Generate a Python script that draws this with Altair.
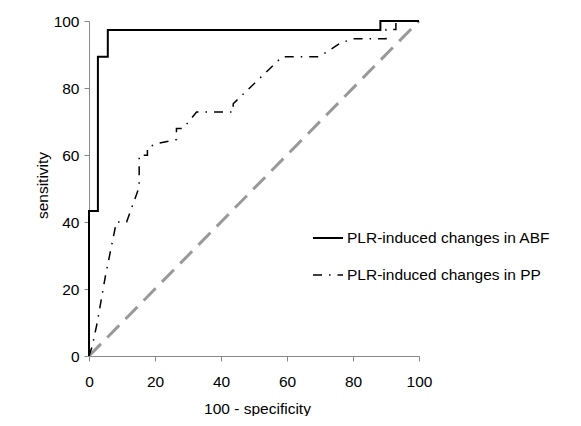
import pandas as pd
import altair as alt

# series names (legend text)
names = ["PLR-induced changes in ABF", "PLR-induced changes in PP"]

# ROC curve vertices (100 - specificity, sensitivity)
abf_fpr = [0, 0, 2.7, 2.7, 5.7, 5.7, 88.3, 88.3, 100]
abf_sens = [0, 43.3, 43.3, 89.3, 89.3, 97.3, 97.3, 100, 100]

pp_fpr = [0, 1, 2.5, 5, 8.3, 11.4, 15.2, 15.2, 17.7, 17.7, 20.6, 26.5, 26.5,
          28.5, 32.6, 43.7, 43.7, 58.5, 69.5, 72.5, 76, 80, 90, 90, 93, 93, 100]
pp_sens = [0, 3, 10, 24, 40, 40, 50.4, 59.9, 59.9, 62.2, 63.4, 64.6, 67.9,
           67.9, 72.8, 72.8, 75.3, 89.3, 89.3, 91, 93.3, 94.7, 94.7, 97.5, 97.5, 100, 100]

# line of no discrimination
diag_fpr = [0, 100]
diag_sens = [0, 100]

rows = []
for name, xs, ys in [(names[0], abf_fpr, abf_sens), (names[1], pp_fpr, pp_sens)]:
    for i, (x, y) in enumerate(zip(xs, ys)):
        rows.append({"series": name, "fpr": x, "sens": y, "step": i})
roc = pd.DataFrame(rows)
diag = pd.DataFrame({"fpr": diag_fpr, "sens": diag_sens})

font = "Liberation Sans"

x_enc = alt.X("fpr:Q", scale=alt.Scale(domain=[0, 100], nice=False),
              axis=alt.Axis(values=[0, 20, 40, 60, 80, 100], title="100 - specificity",
                            labelFlush=False, labelBaseline="alphabetic", labelPadding=25,
                            titleX=168, titleY=57, titleBaseline="alphabetic"))
y_enc = alt.Y("sens:Q", scale=alt.Scale(domain=[0, 100], nice=False),
              axis=alt.Axis(values=[0, 20, 40, 60, 80, 100], title="sensitivity",
                            labelFlush=False, labelPadding=5, titleX=-42, titleY=164,
                            titleAngle=270, titleBaseline="alphabetic"))

# grey dashed diagonal
base = alt.Chart(diag).mark_line(color="#999999", strokeWidth=3, strokeDash=[17, 9]).encode(
    x=x_enc, y=y_enc
)

# the two ROC curves
curves = alt.Chart(roc).mark_line(color="black").encode(
    x=x_enc,
    y=y_enc,
    order="step:Q",
    strokeDash=alt.StrokeDash(
        "series:N",
        scale=alt.Scale(domain=names, range=[[1, 0], [9, 7, 1.5, 7]]),
        legend=alt.Legend(title=None, orient="none", legendX=223, legendY=209,
                          symbolType="stroke", symbolSize=900, symbolStrokeWidth=2,
                          symbolStrokeColor="black", labelFont=font, labelFontSize=15.5,
                          labelColor="black", labelOffset=3, labelLimit=0,
                          rowPadding=20, clipHeight=16, padding=0),
    ),
    strokeWidth=alt.StrokeWidth(
        "series:N", scale=alt.Scale(domain=names, range=[2, 1.5]), legend=None
    ),
)

chart = alt.layer(base, curves).properties(
    width=330,
    height=335,
    autosize=alt.AutoSizeParams(type="none"),
    padding={"left": 81, "top": 13, "right": 150, "bottom": 60},
).configure_view(
    stroke=None
).configure_axis(
    grid=False,
    domainColor="#888888",
    tickColor="#888888",
    tickSize=5,
    labelFont=font,
    labelFontSize=15.5,
    labelColor="black",
    titleFont=font,
    titleFontSize=15.5,
    titleFontWeight="normal",
    titleColor="black",
)

chart.save("out.html", embed_options={"renderer": "svg", "actions": False})
